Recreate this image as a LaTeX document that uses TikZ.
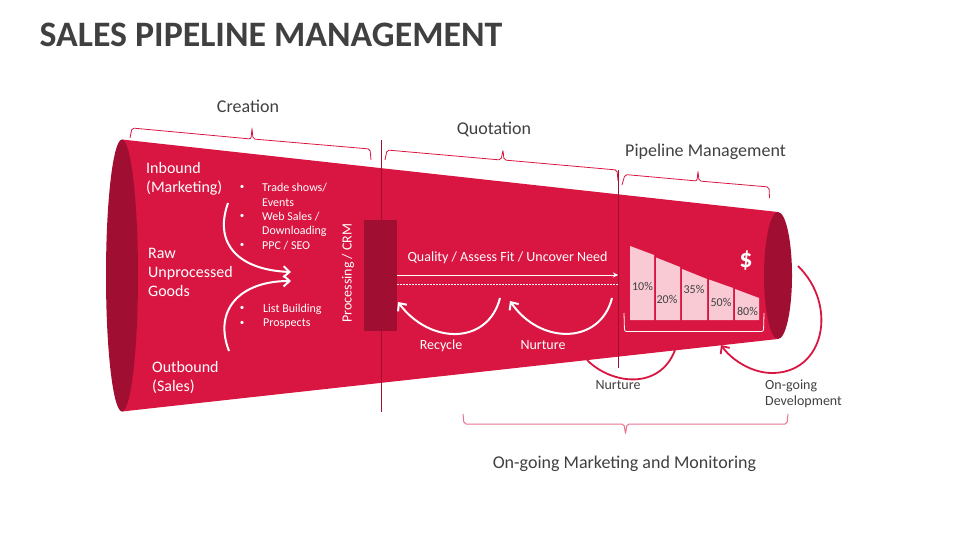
\documentclass[tikz,border=0pt]{standalone}
\usepackage{fontspec}
\setmainfont{Carlito}
\usetikzlibrary{arrows.meta}
\definecolor{funnelred}{HTML}{D91641}
\definecolor{funneldark}{HTML}{A00F32}
\definecolor{barpink}{HTML}{F9C9D4}
\definecolor{labelgrey}{HTML}{404040}
\begin{document}
\begin{tikzpicture}[x=1pt,y=-1pt]
            \tikzstyle{head}=[font=\fontsize{35.8}{40}\selectfont\bfseries,text=labelgrey,anchor=west,inner sep=0pt]
            \tikzstyle{stage}=[font=\fontsize{18}{21}\selectfont,text=labelgrey,inner sep=0pt]
            \tikzstyle{note}=[font=\fontsize{14}{16}\selectfont,text=labelgrey,inner sep=0pt,align=left]
            \tikzstyle{big}=[font=\fontsize{16}{19}\selectfont,text=white,inner sep=0pt,align=left,anchor=west]
            \tikzstyle{small}=[font=\fontsize{12}{14}\selectfont,text=white,inner sep=0pt,anchor=west]
            \tikzstyle{mid}=[font=\fontsize{14}{16}\selectfont,text=white,inner sep=0pt]
            \tikzstyle{pct}=[font=\fontsize{12}{14}\selectfont,text=labelgrey,inner sep=0pt]
            \tikzstyle{dot}=[font=\fontsize{9}{10}\selectfont,text=white,inner sep=0pt]

            \tikzstyle{brace}=[draw=funnelred,line width=0.8pt,rounded corners=2pt]
            \tikzstyle{divider}=[draw=funneldark,line width=1pt]
            \tikzstyle{swoop}=[draw=white,line width=2pt,-{Straight Barb[length=6pt,width=11pt]}]
            \tikzstyle{loop}=[draw=funnelred,line width=1.8pt]

            \useasboundingbox (0,0) rectangle (960,540);

            \node[head] (title) at (39.5,35) {SALES PIPELINE MANAGEMENT};

            % arc behind the funnel
            \coordinate (n1) at (587,360);
            \coordinate (n2) at (675,350);
            \draw[loop] (n1) .. controls (612,385) and (660,390) .. (n2);

            % funnel
            \fill[funnelred] (122,139.5) -- (778,212) -- (778,339) -- (122,411.5) -- cycle;
            \fill[funneldark] (122,275.5) ellipse [x radius=16,y radius=136];
            \fill[funneldark] (778,275.5) ellipse [x radius=14,y radius=63.5];
            \node[fill=funneldark,minimum width=33pt,minimum height=111pt,inner sep=0pt] (crm) at (380.5,275.5) {};

            \coordinate (d1a) at (381,140);
            \coordinate (d1b) at (381,412);
            \coordinate (d2a) at (618,170);
            \coordinate (d2b) at (618,368);
            \draw[divider] (d1a) -- (d1b);
            \draw[divider] (d2a) -- (d2b);

            % brackets
            \draw[brace] (130,138) -- (132,128) -- (251,139) -- (252,128) -- (253,139) -- (370,149) -- (371,160);
            \draw[brace] (385,160) -- (387,150) -- (501,160) -- (503,150) -- (504,160) -- (617,170) -- (618,181);
            \draw[brace] (622,185) -- (625,174.5) -- (697,181) -- (698,171) -- (699,181) -- (769,187) -- (769.5,198);
            \draw[brace,line width=1pt,draw=funnelred!60] (463,414) -- (464,424) -- (624,424) -- (625.5,434) -- (627,424) -- (787,424) -- (788,414);

            % headings of the stages
            \node[stage] (creation) at (248,106.5) {Creation};
            \node[stage] (quotation) at (494,129.5) {Quotation};
            \node[stage] (pipeline) at (705.5,151.5) {Pipeline Management};
            \node[stage] (ongoing) at (624.5,463.5) {On-going Marketing and Monitoring};

            % left part
            \node[big] (inbound) at (146,179) {Inbound\\(Marketing)};
            \node[big] (raw) at (148,272) {Raw\\Unprocessed\\Goods};
            \node[big] (outbound) at (152,378) {Outbound\\(Sales)};

            \foreach \y/\t in {188/{Trade shows/}, 203/Events, 217/{Web Sales /}, 231/Downloading, 246/{PPC / SEO}}
                \node[small] (in\y) at (262,\y) {\t};
            \foreach \y/\t in {309/List Building, 324/Prospects}
                \node[small] (out\y) at (263,\y) {\t};
            \foreach \y in {187,216,245,308,323}
                \node[dot] (dot\y) at (242,\y) {•};

            \coordinate (u1) at (228,203);
            \coordinate (u2) at (291,272);
            \coordinate (l1) at (229,351);
            \coordinate (l2) at (291,281);
            \draw[swoop] (u1) .. controls (213,245) and (240,270) .. (u2);
            \draw[swoop] (l1) .. controls (213,310) and (240,281) .. (l2);

            \node[mid,rotate=90] (proc) at (348,273) {Processing / CRM};

            % middle part
            \node[mid] (quality) at (507.5,257.5) {Quality / Assess Fit / Uncover Need};
            \coordinate (a1) at (397,275);
            \coordinate (a2) at (618,275);
            \coordinate (b1) at (397,284);
            \coordinate (b2) at (618,284);
            \draw[white,line width=0.9pt,-{Stealth[length=5pt,width=5pt]}] (a1) -- (a2);
            \draw[white,line width=0.6pt,dash pattern=on 1.5pt off 1.5pt] (b1) -- (b2);

            \coordinate (r1) at (500,298);
            \coordinate (r2) at (398,302);
            \coordinate (s1) at (612,298);
            \coordinate (s2) at (510,301);
            \draw[swoop] (r1) .. controls (488,345) and (430,345) .. (r2);
            \draw[swoop] (s1) .. controls (600,345) and (540,345) .. (s2);
            \node[mid] (recycle) at (441,345.5) {Recycle};
            \node[mid] (nurture) at (543,345.5) {Nurture};

            % bars
            \foreach \n/\xa/\xb/\ya/\yb/\px/\py in {10/630/654/246/255/642.5/286, 20/656/680/257.5/267/667/299,
                35/682/707/269/279/694/289, 50/709/733/279.5/288/721/302, 80/735/759/289/298/747.5/311} {
                \fill[barpink] (\xa,\ya) -- (\xb,\yb) -- (\xb,320) -- (\xa,320) -- cycle;
                \node[pct] (bar\n) at (\px,\py) {\n\%};
            }
            \draw[white,line width=0.8pt,rounded corners=2pt] (624,313) -- (624.5,331.5) -- (763.5,331.5) -- (764,313);
            \node[font=\fontsize{26}{28}\selectfont\bfseries,text=white,inner sep=0pt] (dollar) at (746,261) {\$};

            % arcs below the funnel
            \coordinate (g1) at (798,266);
            \coordinate (g2) at (721,345);
            \draw[loop,-{Straight Barb[length=6pt,width=11pt]}] (g1) .. controls (838,305) and (825,373) .. (772,373) .. controls (750,373) and (730,358) .. (g2);
            \node[note] (nurt) at (618,385) {Nurture};
            \node[note,anchor=west] (dev) at (765,393.5) {On-going\\Development};
\end{tikzpicture}
\end{document}
